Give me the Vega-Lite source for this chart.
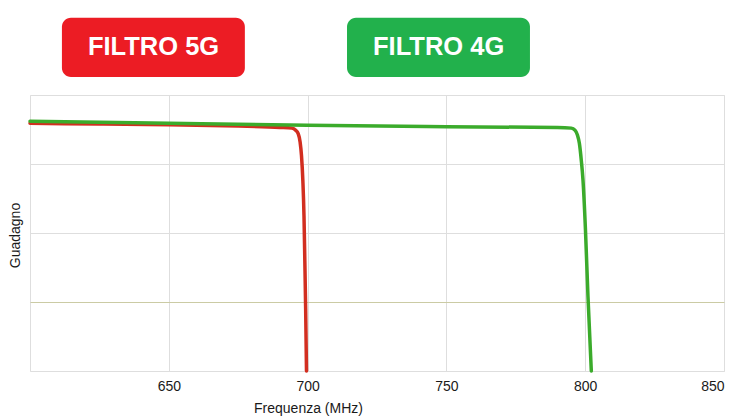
{
  "$schema": "https://vega.github.io/schema/vega-lite/v6.json",
  "autosize": "none",
  "width": 694,
  "height": 276,
  "padding": {"left": 30, "top": 95, "right": 23, "bottom": 49},
  "background": "white",
  "datasets": {
    "curves": [
      {"filter": "FILTRO 5G", "freq": 600, "gain": 3.59},
      {"filter": "FILTRO 5G", "freq": 625, "gain": 3.58},
      {"filter": "FILTRO 5G", "freq": 650, "gain": 3.57},
      {"filter": "FILTRO 5G", "freq": 675, "gain": 3.55},
      {"filter": "FILTRO 5G", "freq": 690, "gain": 3.53},
      {"filter": "FILTRO 5G", "freq": 694.3, "gain": 3.52},
      {"filter": "FILTRO 5G", "freq": 695.7, "gain": 3.49},
      {"filter": "FILTRO 5G", "freq": 696.6, "gain": 3.44},
      {"filter": "FILTRO 5G", "freq": 697.3, "gain": 3.32},
      {"filter": "FILTRO 5G", "freq": 697.8, "gain": 3.12},
      {"filter": "FILTRO 5G", "freq": 698.3, "gain": 2.75},
      {"filter": "FILTRO 5G", "freq": 698.7, "gain": 2.25},
      {"filter": "FILTRO 5G", "freq": 699.0, "gain": 1.6},
      {"filter": "FILTRO 5G", "freq": 699.3, "gain": 0.9},
      {"filter": "FILTRO 5G", "freq": 699.6, "gain": 0},
      {"filter": "FILTRO 4G", "freq": 600, "gain": 3.62},
      {"filter": "FILTRO 4G", "freq": 650, "gain": 3.59},
      {"filter": "FILTRO 4G", "freq": 700, "gain": 3.56},
      {"filter": "FILTRO 4G", "freq": 750, "gain": 3.54},
      {"filter": "FILTRO 4G", "freq": 790, "gain": 3.53},
      {"filter": "FILTRO 4G", "freq": 795, "gain": 3.52},
      {"filter": "FILTRO 4G", "freq": 796.3, "gain": 3.49},
      {"filter": "FILTRO 4G", "freq": 797.2, "gain": 3.42},
      {"filter": "FILTRO 4G", "freq": 797.9, "gain": 3.3},
      {"filter": "FILTRO 4G", "freq": 798.6, "gain": 3.05},
      {"filter": "FILTRO 4G", "freq": 799.2, "gain": 2.77},
      {"filter": "FILTRO 4G", "freq": 800.1, "gain": 2.04},
      {"filter": "FILTRO 4G", "freq": 801.0, "gain": 1.08},
      {"filter": "FILTRO 4G", "freq": 802.2, "gain": 0}
    ],
    "badges": [
      {"filter": "FILTRO 5G", "f1": 611.5, "f2": 677.4, "fc": 644.5, "g1": 4.26, "g2": 5.12, "gc": 4.69},
      {"filter": "FILTRO 4G", "f1": 714.2, "f2": 780.1, "fc": 747.2, "g1": 4.26, "g2": 5.12, "gc": 4.69}
    ]
  },
  "layer": [
    {
      "data": {"name": "curves"},
      "mark": {"type": "line", "strokeWidth": 3.5, "interpolate": "monotone", "strokeCap": "round"},
      "encoding": {
        "x": {
          "field": "freq",
          "type": "quantitative",
          "scale": {"domain": [600, 850], "nice": false, "zero": false},
          "axis": {
            "values": [650, 700, 750, 800, 850],
            "title": "Frequenza (MHz)",
            "titleX": 278,
            "titleY": 37,
            "titleBaseline": "middle",
            "titleAnchor": null,
            "titleAlign": "center",
            "labelPadding": 8
          }
        },
        "y": {
          "field": "gain",
          "type": "quantitative",
          "scale": {"domain": [0, 4], "nice": false},
          "axis": {
            "values": [0, 1, 2, 3, 4],
            "labels": false,
            "title": "Guadagno",
            "titleX": -15,
            "titleY": 140,
            "titleAlign": "center",
            "titleBaseline": "middle",
            "titleAnchor": null,
            "gridColor": {
              "condition": {"test": "datum.value == 1", "value": "#cbcba4"},
              "value": "#dedede"
            }
          }
        },
        "stroke": {
          "field": "filter",
          "type": "nominal",
          "scale": {"domain": ["FILTRO 5G", "FILTRO 4G"], "range": ["#d22e20", "#3bab2b"]},
          "legend": null
        },
        "order": {"field": "freq", "type": "quantitative"}
      }
    },
    {
      "data": {"name": "badges"},
      "mark": {"type": "rect", "cornerRadius": 9},
      "encoding": {
        "x": {"field": "f1", "type": "quantitative"},
        "x2": {"field": "f2"},
        "y": {"field": "g1", "type": "quantitative"},
        "y2": {"field": "g2"},
        "fill": {
          "field": "filter",
          "type": "nominal",
          "scale": {"domain": ["FILTRO 5G", "FILTRO 4G"], "range": ["#ec1c24", "#22b14c"]},
          "legend": null
        }
      }
    },
    {
      "data": {"name": "badges"},
      "mark": {"type": "text", "color": "white", "fontWeight": "bold", "fontSize": 25.5, "font": "Liberation Sans", "align": "center", "baseline": "middle"},
      "encoding": {
        "x": {"field": "fc", "type": "quantitative"},
        "y": {"field": "gc", "type": "quantitative"},
        "text": {"field": "filter", "type": "nominal"}
      }
    }
  ],
  "config": {
    "view": {"stroke": "#dedede", "strokeWidth": 1},
    "axis": {
      "domain": false,
      "ticks": false,
      "grid": true,
      "gridColor": "#dedede",
      "labelFont": "Liberation Sans",
      "labelFontSize": 14,
      "labelColor": "#1a1a1a",
      "titleFont": "Liberation Sans",
      "titleFontSize": 14,
      "titleFontWeight": "normal",
      "titleColor": "#1a1a1a"
    }
  }
}
